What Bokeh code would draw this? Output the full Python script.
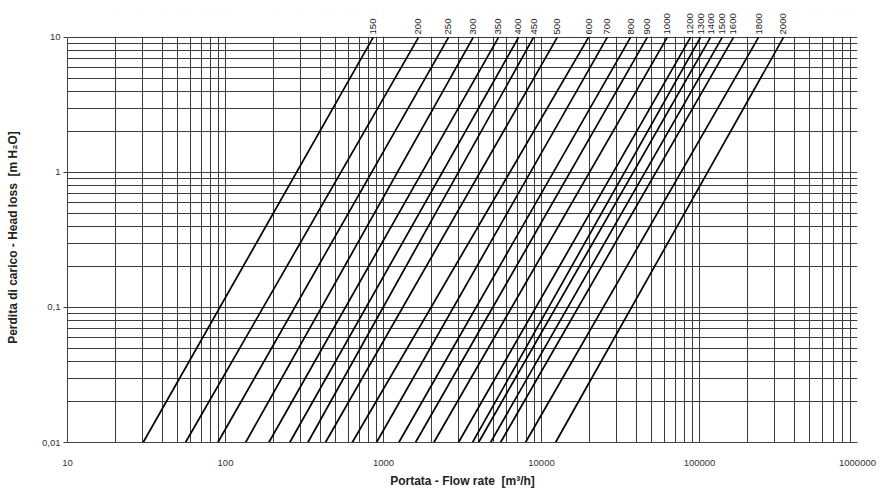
import math
from bokeh.plotting import figure
from bokeh.models import FixedTicker, BoxAnnotation
from bokeh.core.properties import value
from bokeh.embed import file_html
from bokeh.resources import INLINE

# Nominal diameters (DN) of each curve
dn_labels = ["150", "200", "250", "300", "350", "400", "450", "500", "600", "700",
             "800", "900", "1000", "1200", "1300", "1400", "1500", "1600", "1800", "2000"]
# Flow rate [m3/h] where each curve meets head loss 0.01 m and 10 m
q_at_low = [30.1, 55.8, 89.4, 134, 188, 255, 332, 429, 634, 903,
            1250, 1594, 2082, 2983, 3658, 3994, 4756, 5502, 7919, 12260]
q_at_high = [860, 1665, 2578, 3695, 5343, 7152, 8900, 12570, 19840, 26050,
             36590, 46670, 62470, 87700, 101500, 117400, 139200, 164100, 236300, 340100]
h_low = 0.01
h_high = 10

x_ticks = [10, 100, 1000, 10000, 100000, 1000000]
x_tick_labels = ["10", "100", "1000", "10000", "100000", "1000000"]
y_ticks = [0.01, 0.1, 1, 10]
y_tick_labels = ["0,01", "0,1", "1", "10"]

FONT = "Liberation Sans"
Y_TOP = 15.3  # extra head room above 10 where the DN labels sit

p = figure(width=880, height=494, x_axis_type="log", y_axis_type="log",
           x_range=(10, 1000000), y_range=(0.01, Y_TOP),
           output_backend="svg", toolbar_location=None,
           min_border_left=67, min_border_right=23, min_border_top=12, min_border_bottom=52)

for ql, qh in zip(q_at_low, q_at_high):
    p.line([ql, qh], [h_low, h_high], line_color="black", line_width=1.7)

def minor(ticks):
    out = []
    for t in ticks[:-1]:
        out += [t * k for k in range(2, 10)]
    return out

p.xaxis.ticker = FixedTicker(ticks=x_ticks, minor_ticks=minor(x_ticks))
p.yaxis.ticker = FixedTicker(ticks=y_ticks, minor_ticks=minor(y_ticks))
p.xaxis.major_label_overrides = {t: s for t, s in zip(x_ticks, x_tick_labels)}
p.yaxis.major_label_overrides = {t: s for t, s in zip(y_ticks, y_tick_labels)}
p.yaxis.bounds = (h_low, h_high)

for ax in (p.xaxis, p.yaxis):
    ax.major_label_text_font = FONT
    ax.major_label_text_font_size = "9.5px"
    ax.major_label_text_color = "#333333"
    ax.axis_label_text_font = FONT
    ax.axis_label_text_font_style = "bold"
    ax.axis_label_text_font_size = "12px"
    ax.axis_label_text_color = "#222222"
    ax.minor_tick_line_color = None
    ax.axis_line_color = "#444444"

NB = "\u00a0"
p.xaxis.axis_label = "Portata - Flow rate" + NB * 2 + "[m³/h]"
p.yaxis.axis_label = "Perdita di carico - Head loss" + NB * 2 + "[m H₂O]" + NB * 6
p.xaxis.major_tick_line_color = None
p.xaxis.major_label_standoff = 11
p.xaxis.axis_label_standoff = 5
p.yaxis.major_tick_out = 4
p.yaxis.major_tick_in = 0
p.yaxis.major_tick_line_color = "#444444"
p.yaxis.major_label_standoff = 3
p.yaxis.axis_label_standoff = 19

for g in (p.xgrid, p.ygrid):
    g.grid_line_color = "#3c3c3c"
    g.grid_line_width = 1
    g.minor_grid_line_color = "#3c3c3c"
    g.minor_grid_line_width = 1

# white band above the chart area (hides the grid there)
p.add_layout(BoxAnnotation(bottom=10.12, top=Y_TOP * 3, fill_color="white", fill_alpha=1.0,
                           line_color=None, level="underlay"))

p.text(x=q_at_high, y=[h_high] * len(q_at_high), text=dn_labels, angle=math.pi / 2,
       text_align="left", text_baseline="middle", y_offset=-3,
       text_font=value(FONT), text_font_size="9.5px", text_color="#222222", level="overlay")

p.outline_line_color = None
p.background_fill_color = "white"
p.border_fill_color = "white"

open("out.html", "w").write(file_html(p, INLINE))
